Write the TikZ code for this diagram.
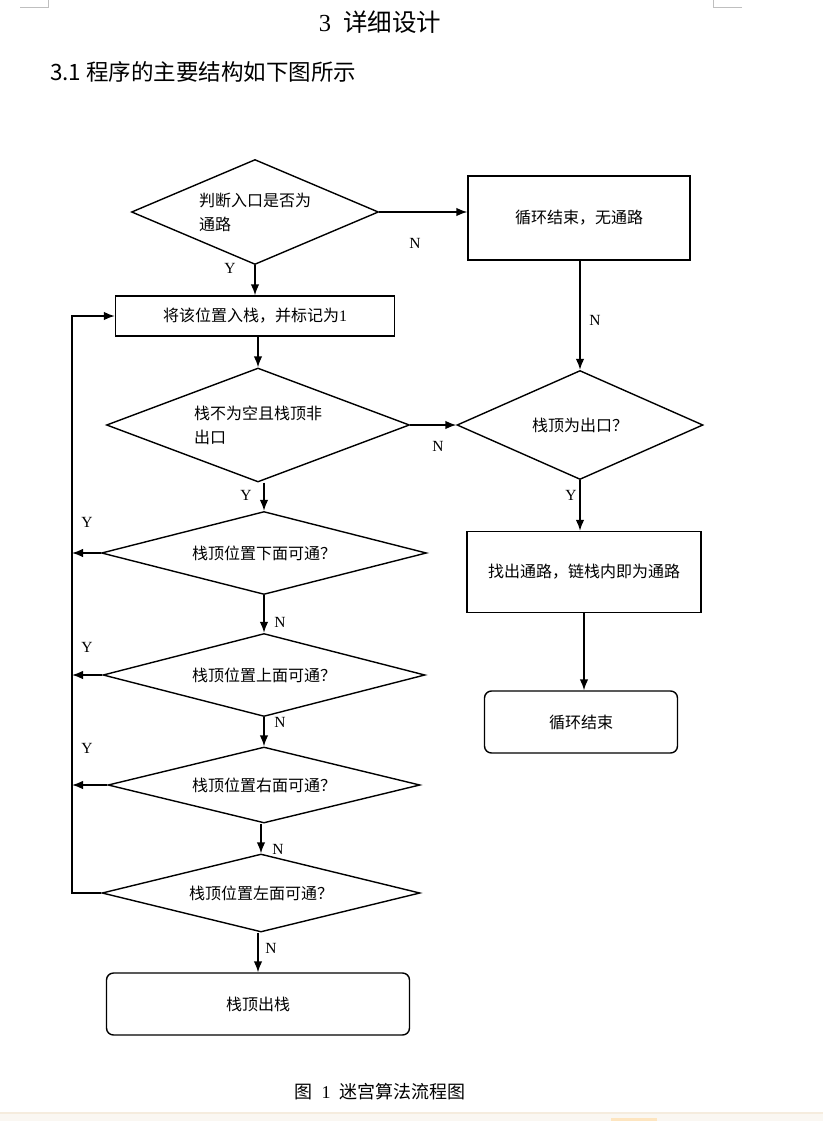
\documentclass[tikz,border=0pt]{standalone}
\usepackage{fontspec}
\usepackage{tikz}
\usepackage{xcolor}
\usetikzlibrary{arrows.meta,shapes.geometric}
\setmainfont{Liberation Serif}
\newfontfamily\cjk{Noto Sans CJK SC}
\definecolor{edgefill}{RGB}{250,247,242}
\definecolor{edgeline}{RGB}{245,236,222}
\definecolor{edgetab}{RGB}{253,229,192}
\newcommand{\yes}{Y}
\newcommand{\no}{N}

\begin{document}
\begin{tikzpicture}[x=1pt, y=-1pt, line width=1.4pt,
  every node/.style={font=\fontsize{16}{24}\selectfont},
  decide/.style={diamond, draw=black, inner sep=0pt, align=left},
  stepbox/.style={rectangle, draw=black, inner sep=0pt},
  endbox/.style={rectangle, rounded corners=7pt, draw=black, inner sep=0pt},
  tag/.style={font=\fontsize{15.5}{15.5}\selectfont},
  arr/.style={-{Latex[length=11pt,width=8.5pt]}}]
\useasboundingbox (0,0) rectangle (823,1121);
% page edges
\fill[white] (0,0) rectangle (823,1112);
\fill[edgefill] (0,1112) rectangle (823,1121);
\draw[line width=1.5pt, edgeline] (0,1113) -- (823,1113);
\fill[edgetab] (611,1118) rectangle (657,1121);
\draw[line width=0.8pt, black!25] (20,7) -- (48,7) -- (48,0);
\draw[line width=0.8pt, black!25] (742,7) -- (713,7) -- (713,0);
% headings
\node (title) at (380,22) {\fontsize{24.5}{24.5}\selectfont 3\ \ {\cjk 详细设计}};
\node[anchor=west] (sect) at (46,72) {\fontsize{22.5}{22.5}\selectfont\cjk 3.1 程序的主要结构如下图所示};
% left column
\node[decide, aspect=2.35, minimum width=247pt, minimum height=105pt] (d1) at (255,212) {\cjk 判断入口是否为\\\cjk 通路};
\node[stepbox, minimum width=279pt, minimum height=40pt] (push) at (255,316) {{\cjk 将该位置入栈，并标记为}1};
\node[decide, aspect=2.66, minimum width=303pt, minimum height=114pt] (d2) at (258,425) {\cjk 栈不为空且栈顶非\\\cjk 出口};
\node[decide, aspect=3.9, minimum width=325pt, minimum height=83pt, align=center] (down) at (264,553) {\cjk 栈顶位置下面可通？};
\node[decide, aspect=3.9, minimum width=322pt, minimum height=83pt, align=center] (up) at (264,675) {\cjk 栈顶位置上面可通？};
\node[decide, aspect=4.1, minimum width=312pt, minimum height=76pt, align=center] (right) at (264,785) {\cjk 栈顶位置右面可通？};
\node[decide, aspect=4.1, minimum width=318pt, minimum height=78pt, align=center] (left) at (261,893) {\cjk 栈顶位置左面可通？};
\node[endbox, minimum width=303pt, minimum height=62pt] (pop) at (258,1004) {\cjk 栈顶出栈};
\coordinate (rail) at (72,316);
% right column
\node[stepbox, minimum width=222pt, minimum height=84pt] (nopath) at (579,218) {\cjk 循环结束，无通路\hspace{20pt}};
\node[decide, aspect=2.26, minimum width=246pt, minimum height=109pt, align=center] (exit) at (580,425) {\cjk 栈顶为出口？};
\node[stepbox, minimum width=234pt, minimum height=81pt] (found) at (584,572) {\cjk 找出通路，链栈内即为通路};
\node[endbox, minimum width=193pt, minimum height=62pt] (done) at (581,722) {\cjk 循环结束};
% connectors
\draw[arr] (d1.east) -- (d1.east -| nopath.west);
\draw[arr] (d1.south) -- (push.north);
\draw[arr] (push.south -| d2.north) -- (d2.north);
\draw[arr] (d2.east) -- (exit.west);
\draw[arr] (d2.south -| down.north) -- (down.north);
\draw[arr] (down.south) -- (up.north);
\draw[arr] (up.south) -- (right.north);
\draw[arr] (right.south -| left.north) -- (left.north);
\draw[arr] (left.south -| pop.north) -- (pop.north);
\draw[arr] (down.west) -- (down.west -| rail);
\draw[arr] (up.west) -- (up.west -| rail);
\draw[arr] (right.west) -- (right.west -| rail);
\draw[arr] (left.west) -| (rail) -- (push.west);
\draw[arr] (nopath.south -| exit.north) -- (exit.north);
\draw[arr] (exit.south) -- (exit.south |- found.north);
\draw[arr] (found.south) -- (found.south |- done.north);
% labels
\node[tag] (n1) at (415,243) {\no};
\node[tag] (y1) at (230,268) {\yes};
\node[tag] (n2) at (595,320) {\no};
\node[tag] (n3) at (438,446) {\no};
\node[tag] (y2) at (246,495) {\yes};
\node[tag] (y3) at (571,495) {\yes};
\node[tag] (y4) at (87,522) {\yes};
\node[tag] (n4) at (280,622) {\no};
\node[tag] (y5) at (87,647) {\yes};
\node[tag] (n5) at (280,722) {\no};
\node[tag] (y6) at (87,748) {\yes};
\node[tag] (n6) at (278,849) {\no};
\node[tag] (n7) at (271,948) {\no};
% caption
\node (cap) at (380,1092) {\fontsize{18}{18}\selectfont{\cjk 图}\ \ 1\ \ {\cjk 迷宫算法流程图}};
\end{tikzpicture}
\end{document}
